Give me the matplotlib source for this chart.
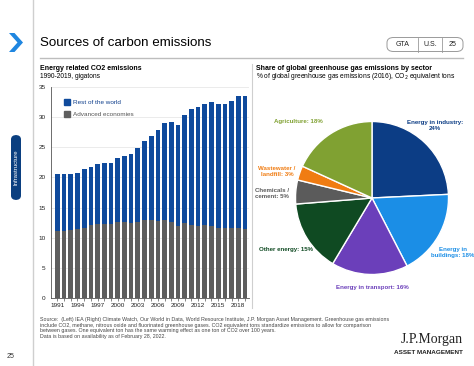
import matplotlib
matplotlib.use("Agg")
import matplotlib.pyplot as plt
from matplotlib.patches import Polygon, FancyBboxPatch, Patch
from matplotlib.lines import Line2D

plt.rcParams['font.family'] = ['Liberation Sans', 'DejaVu Sans']

# ---------------- data ----------------
years = list(range(1991, 2020))
advanced = [11.2, 11.2, 11.3, 11.5, 11.7, 12.1, 12.3, 12.3, 12.3, 12.6, 12.7, 12.5, 12.7,
            12.9, 12.9, 12.8, 13.0, 12.6, 11.9, 12.4, 12.2, 12.0, 12.1, 11.9, 11.7, 11.6,
            11.7, 11.7, 11.4]
rest_of_world = [9.3, 9.4, 9.3, 9.2, 9.7, 9.6, 9.9, 10.0, 10.1, 10.6, 10.8, 11.3, 12.2,
                 13.1, 14.0, 15.1, 16.0, 16.6, 16.8, 18.0, 19.1, 19.6, 20.1, 20.5, 20.5,
                 20.6, 21.0, 21.7, 22.0]
tick_years = list(range(1991, 2020, 3))

sectors = ["Energy in industry", "Energy in buildings", "Energy in transport",
           "Other energy", "Chemicals / cement", "Wastewater / landfill", "Agriculture"]
shares = [24, 18, 16, 15, 5, 3, 18]
sector_labels = ["Energy in industry:\n24%", "Energy in\nbuildings: 18%",
                 "Energy in transport: 16%", "Other energy: 15%",
                 "Chemicals /\ncement: 5%", "Wastewater /\nlandfill: 3%",
                 "Agriculture: 18%"]
sector_colors = ["#0c3d85", "#1b8ee6", "#6b3fba", "#0f4a22", "#5b5b5b", "#f07c12", "#80a132"]

# ---------------- layout helpers ----------------
W, H = 474, 366
fig = plt.figure(figsize=(W / 100, H / 100), dpi=100)
fig.patch.set_facecolor("white")

def fx(x):
    return x / W

def fy(y):
    return 1 - y / H

def box(x0, y0, x1, y1):
    return [fx(x0), fy(y1), fx(x1) - fx(x0), fy(y0) - fy(y1)]

# sidebar decorations
fig.add_artist(Line2D([fx(33), fx(33)], [0, 1], color="#cfcfcf", lw=1.0))
chev = [(9, 33), (14.5, 33), (23, 42.5), (14.5, 52), (9, 52), (17.5, 42.5)]
fig.add_artist(Polygon([(fx(a), fy(b)) for a, b in chev], closed=True,
                       transform=fig.transFigure, color="#1f86e0", lw=0))
pill = FancyBboxPatch((fx(11), fy(200)), fx(21) - fx(11), fy(135) - fy(200),
                      boxstyle="round,pad=0,rounding_size=0.012",
                      transform=fig.transFigure, facecolor="#0b3f80", edgecolor="none")
fig.add_artist(pill)
fig.text(fx(16), fy(167.5), "Infrastructure", rotation=90, color="white",
         fontsize=4.3, ha="center", va="center")
fig.text(fx(11), fy(356), "25", fontsize=5, ha="center", va="center", color="#333333")

# title
fig.text(fx(40), fy(43), "Sources of carbon emissions", fontsize=9.6, ha="left",
         va="center", color="black")
fig.add_artist(Line2D([fx(40), fx(463)], [fy(57.5), fy(57.5)], color="#bdbdbd", lw=1.0))

# GTA box
gta = FancyBboxPatch((fx(387), fy(51.5)), fx(463) - fx(387), fy(37.5) - fy(51.5),
                     boxstyle="round,pad=0,rounding_size=0.014",
                     transform=fig.transFigure, facecolor="white",
                     edgecolor="#9a9a9a", lw=0.7)
fig.add_artist(gta)
for xd in (418, 442):
    fig.add_artist(Line2D([fx(xd), fx(xd)], [fy(51.5), fy(37.5)], color="#9a9a9a", lw=0.6))
for xt, t in ((402.5, "GTA"), (430, "U.S."), (453, "25")):
    fig.text(fx(xt), fy(44.8), t, fontsize=5, ha="center", va="center", color="#222222")

# panel separator
fig.add_artist(Line2D([fx(252), fx(252)], [fy(64), fy(308)], color="#cfcfcf", lw=0.8))

# subtitles
fig.text(fx(40), fy(68.5), "Energy related CO2 emissions", fontsize=5, fontweight="bold",
         ha="left", va="center")
fig.text(fx(40), fy(76.5), "1990-2019, gigatons", fontsize=4.8, ha="left", va="center")
fig.text(fx(256), fy(68.5), "Share of global greenhouse gas emissions by sector", fontsize=5,
         fontweight="bold", ha="left", va="center")
fig.text(fx(256), fy(76.5), "% of global greenhouse gas emissions (2016), CO$_2$ equivalent tons",
         fontsize=4.8, ha="left", va="center")

# ---------------- bar chart ----------------
ax = fig.add_axes(box(51, 86.7, 249, 298.3))
ax.bar(years, advanced, width=0.7, color="#5e5e5e", label="Advanced economies", zorder=3)
ax.bar(years, rest_of_world, bottom=advanced, width=0.7, color="#0f4a9c",
       label="Rest of the world", zorder=3)
ax.set_ylim(0, 35)
ax.set_xlim(1990.05, 2019.6)
ax.set_yticks(range(0, 36, 5))
ax.set_xticks(tick_years)
ax.set_xticks(years, minor=True)
ax.yaxis.grid(True, color="#e8e8e8", lw=0.6, zorder=0)
for s in ("top", "right"):
    ax.spines[s].set_visible(False)
ax.spines["left"].set_color("#555555")
ax.spines["bottom"].set_color("#555555")
ax.spines["left"].set_linewidth(0.6)
ax.spines["bottom"].set_linewidth(0.6)
ax.tick_params(axis="y", length=0, labelsize=4.6, pad=4, labelcolor="#222222")
ax.tick_params(axis="x", which="both", length=2, width=0.5, color="#555555",
               labelsize=4.6, pad=1.5, labelcolor="#222222")
handles = [Patch(color="#0f4a9c", label="Rest of the world"),
           Patch(color="#5e5e5e", label="Advanced economies")]
leg = ax.legend(handles=handles, loc="upper left", bbox_to_anchor=(fx(58), fy(93)),
                bbox_transform=fig.transFigure, frameon=False, fontsize=4.6,
                handlelength=0.9, handleheight=1.1, handletextpad=0.6, labelspacing=0.9)
leg.get_texts()[0].set_color("#0f3f8c")
leg.get_texts()[1].set_color("#555555")

# ---------------- pie chart ----------------
cx, cy, r = 372, 198, 76.5
axp = fig.add_axes(box(cx - r, cy - r, cx + r, cy + r))
axp.pie(shares, colors=sector_colors, startangle=90, counterclock=False,
        wedgeprops=dict(edgecolor="white", linewidth=1.0))
axp.set_xlim(-1, 1)
axp.set_ylim(-1, 1)
axp.set_aspect("auto")
axp.axis("off")

label_pos = [(435, 125), (453, 252.5), (372, 288), (286, 250), (272, 193), (277, 171),
             (298.5, 122)]
text_colors = ["#0c3d85", "#1b8ee6", "#6b3fba", "#0f4a22", "#5b5b5b", "#f07c12", "#80a132"]
for lab, (lx, ly), col in zip(sector_labels, label_pos, text_colors):
    fig.text(fx(lx), fy(ly), lab, fontsize=4.4, fontweight="bold", color=col,
             ha="center", va="center", multialignment="center", linespacing=1.25)

# ---------------- footer ----------------
footer = ("Source:  (Left) IEA (Right) Climate Watch, Our World in Data, World Resource Institute, "
          "J.P. Morgan Asset Management. Greenhouse gas emissions\n"
          "include CO2, methane, nitrous oxide and fluorinated greenhouse gases. CO2 equivalent tons "
          "standardize emissions to allow for comparison\n"
          "between gases. One equivalent ton has the same warming effect as one ton of CO2 over 100 years.\n"
          "Data is based on availability as of February 28, 2022.")
fig.text(fx(40), fy(317.5), footer, fontsize=3.8, ha="left", va="top", color="#444444",
         linespacing=1.1)

fig.text(fx(463), fy(340), "J.P.Morgan", family=["Liberation Serif", "DejaVu Serif"],
         fontsize=10, ha="right", va="center", color="#222222")
fig.text(fx(463), fy(353), "ASSET MANAGEMENT", fontsize=4.6, fontweight="bold",
         ha="right", va="center", color="#222222")

fig.savefig("out.png", dpi=100, facecolor="white")
